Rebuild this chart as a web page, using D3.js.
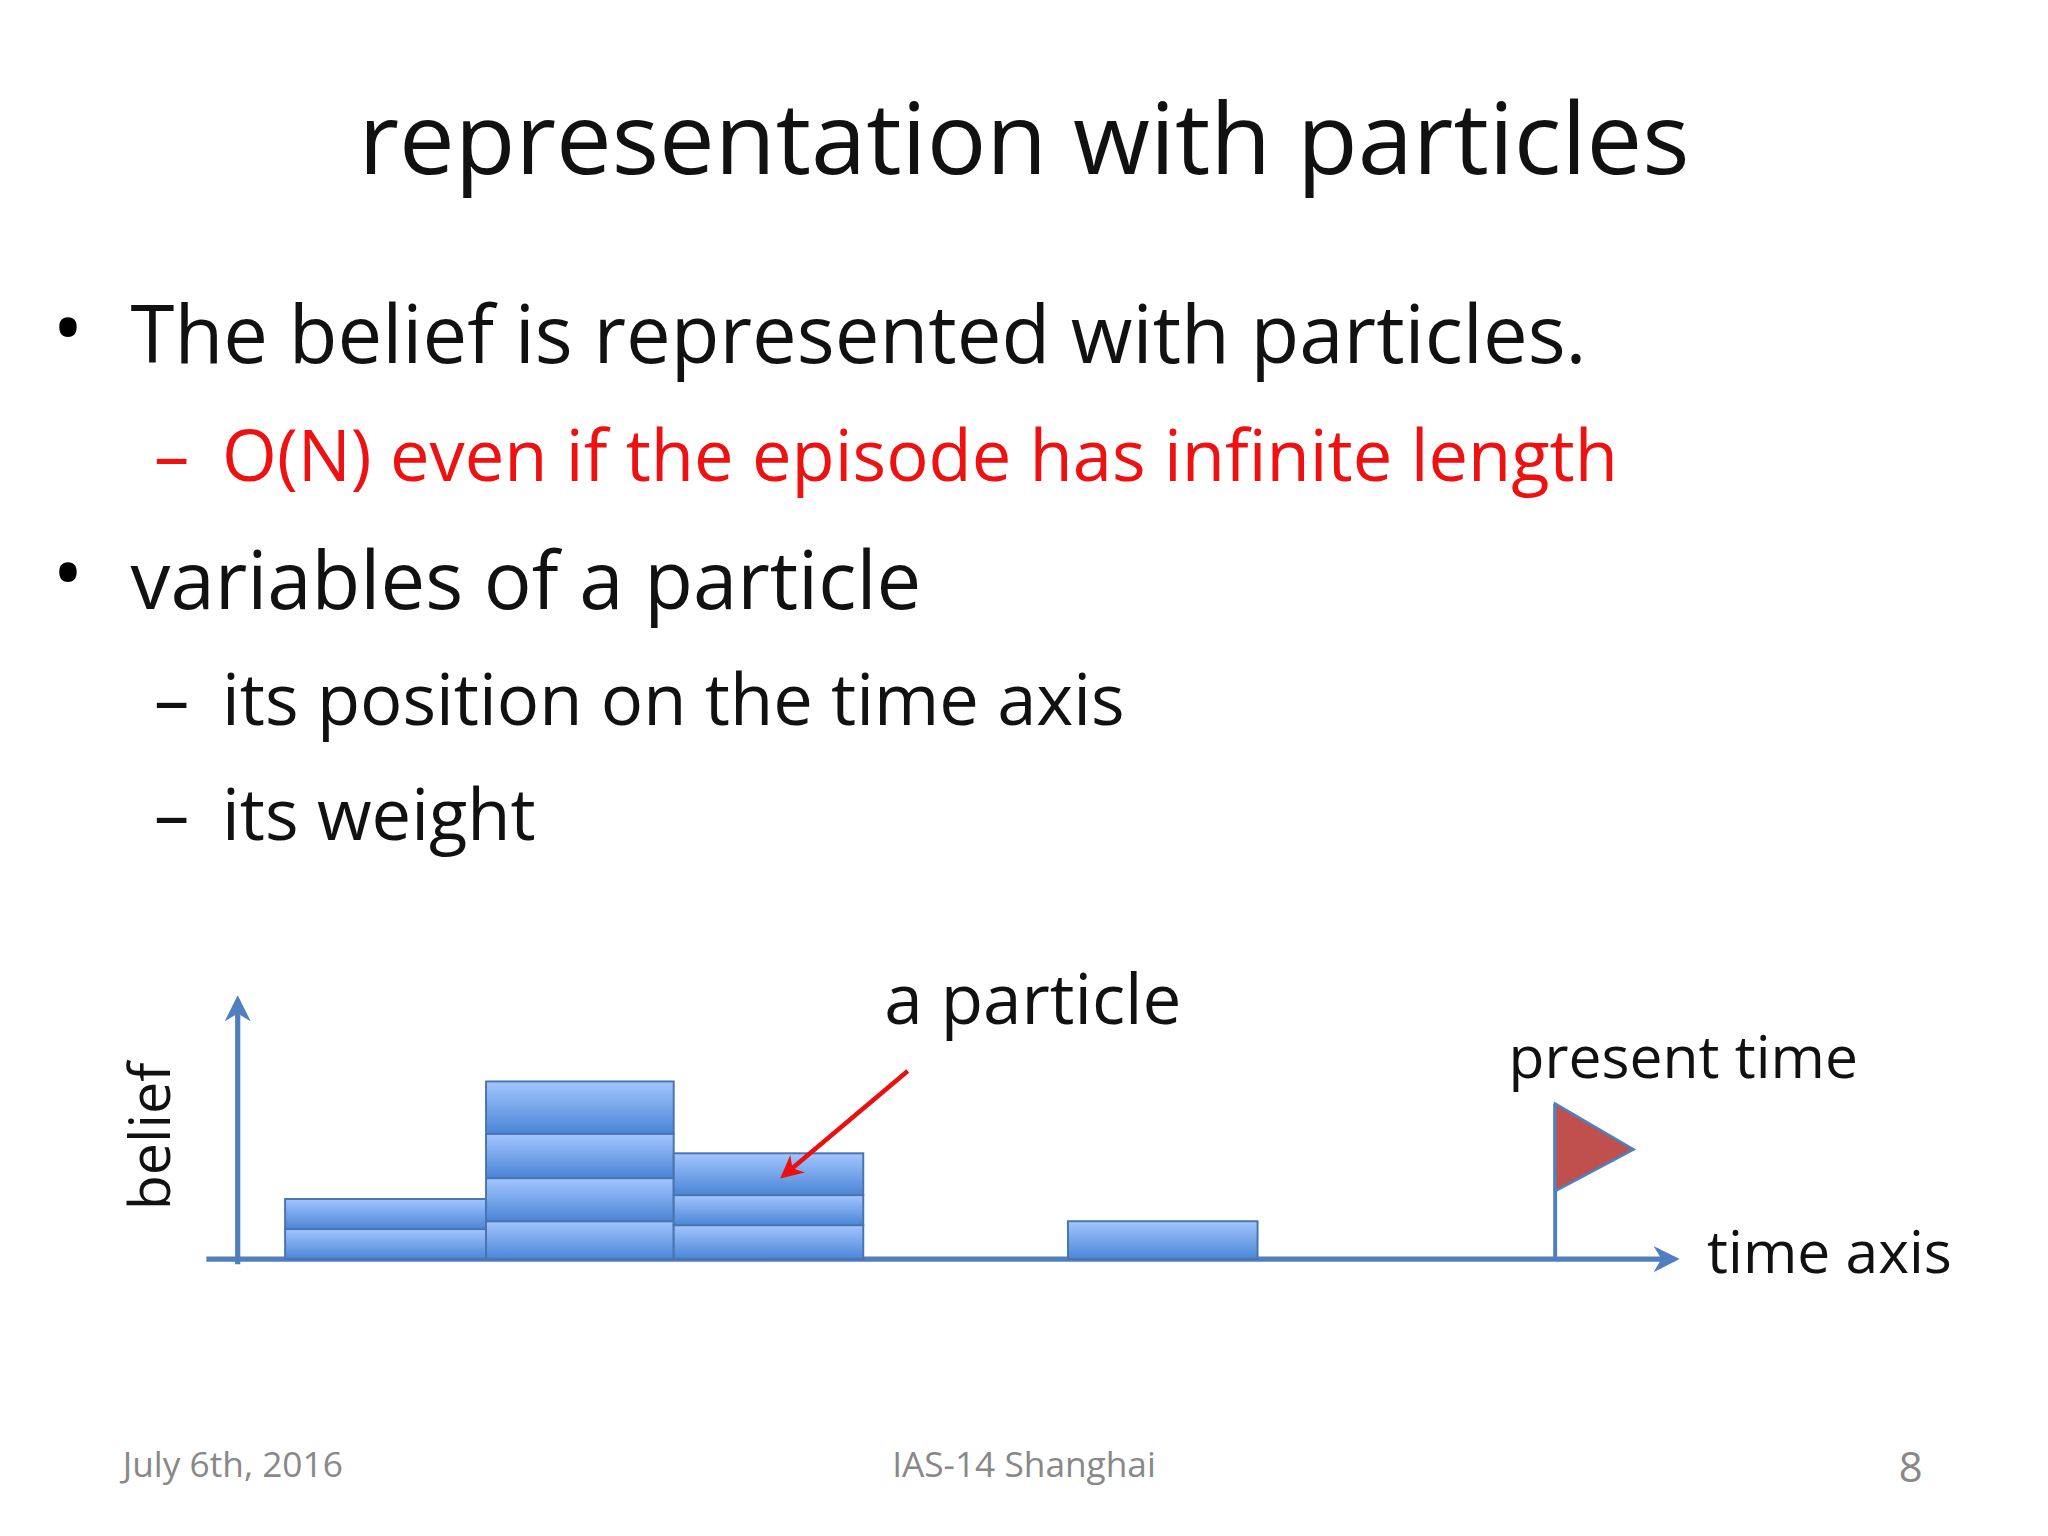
<!DOCTYPE html>
<html><head><meta charset="utf-8">
<script src="https://cdn.jsdelivr.net/npm/d3@7"></script>
<style>body{margin:0;background:#fff}svg{display:block}</style>
</head><body>
<script>
// particles: start time, bin width, weight (stacked within a bin)
const particleStart = [0.25, 0.25, 1.31, 1.31, 1.31, 1.31, 2.30, 2.30, 2.30, 4.38];
const particleWidth = [1.06, 1.06, 0.99, 0.99, 0.99, 0.99, 1.00, 1.00, 1.00, 1.00];
const particleWeight = [2.3, 2.3, 2.9, 3.3, 3.4, 4.0, 2.6, 2.3, 3.2, 2.9];
const presentTime = 6.95;
const bullets = ["The belief is represented with particles.", "variables of a particle"];
const subItems = ["O(N) even if the episode has infinite length", "its position on the time axis", "its weight"];

const svg = d3.select("body").append("svg")
  .attr("width", 2048).attr("height", 1536)
  .attr("viewBox", "0 0 1568 1176");
const font = "'Open Sans', sans-serif";

svg.append("text").attr("x", 784).attr("y", 133).attr("text-anchor", "middle")
  .style("font-family", font).style("font-size", "76px").attr("fill", "#111")
  .text("representation with particles");

// bullets
[[bullets[0], 278], [bullets[1], 466]].forEach(([t, y]) => {
  svg.append("text").attr("x", 40).attr("y", y - 4).style("font-family", font)
    .style("font-size", "64px").text("•");
  svg.append("text").attr("x", 100).attr("y", y).style("font-family", font)
    .style("font-size", "61px").attr("fill", "#111").text(t);
});
[[subItems[0], 368, "#ee1111"], [subItems[1], 555, "#111"], [subItems[2], 643, "#111"]].forEach(([t, y, c]) => {
  svg.append("text").attr("x", 118).attr("y", y).style("font-family", font)
    .style("font-size", "54px").attr("fill", c).text("–");
  svg.append("text").attr("x", 170).attr("y", y).style("font-family", font)
    .style("font-size", "54px").attr("fill", c).text(t);
});

// chart
const x = d3.scaleLinear().domain([0, 7.6]).range([182, 1285]);
const y = d3.scaleLinear().domain([0, 19.4]).range([964, 770]);

const defs = svg.append("defs");
const g = defs.append("linearGradient").attr("id", "pg").attr("x1", 0).attr("y1", 0).attr("x2", 0).attr("y2", 1);
g.append("stop").attr("offset", "0%").attr("stop-color", "#a3c6ff");
g.append("stop").attr("offset", "100%").attr("stop-color", "#4a85d6");
const mk = defs.append("marker").attr("id", "ah").attr("viewBox", "0 0 10 10").attr("refX", 8).attr("refY", 5)
  .attr("markerWidth", 5).attr("markerHeight", 5).attr("orient", "auto-start-reverse");
mk.append("path").attr("d", "M0,0 L10,5 L0,10 L3,5 Z").attr("fill", "#4f7fbf");
const mr = defs.append("marker").attr("id", "ar").attr("viewBox", "0 0 10 10").attr("refX", 8).attr("refY", 5)
  .attr("markerWidth", 5).attr("markerHeight", 5).attr("orient", "auto");
mr.append("path").attr("d", "M0,0 L10,5 L0,10 L3,5 Z").attr("fill", "#e81010");

// stack particles by start
const base = {};
const rects = particleStart.map((s, i) => {
  const b = base[s] || 0;
  base[s] = b + particleWeight[i];
  return { s, w: particleWidth[i], y0: b, y1: b + particleWeight[i] };
});

svg.append("line").attr("x1", 158).attr("x2", 1282).attr("y1", y(0)).attr("y2", y(0))
  .attr("stroke", "#4f7fbf").attr("stroke-width", 4).attr("marker-end", "url(#ah)");
svg.append("line").attr("x1", x(0)).attr("x2", x(0)).attr("y1", y(0) + 4).attr("y2", 766)
  .attr("stroke", "#4f7fbf").attr("stroke-width", 4).attr("marker-end", "url(#ah)");

svg.selectAll("rect.p").data(rects).enter().append("rect").attr("class", "p")
  .attr("x", d => x(d.s)).attr("width", d => x(d.s + d.w) - x(d.s))
  .attr("y", d => y(d.y1)).attr("height", d => y(d.y0) - y(d.y1))
  .attr("fill", "url(#pg)").attr("stroke", "#4a74b0").attr("stroke-width", 1.5);

// flag
const fx = x(presentTime);
svg.append("line").attr("x1", fx).attr("x2", fx).attr("y1", y(0)).attr("y2", 845)
  .attr("stroke", "#4f7fbf").attr("stroke-width", 3);
svg.append("path").attr("d", `M${fx},845 L${fx + 60},880 L${fx},912 Z`)
  .attr("fill", "#c0504d").attr("stroke", "#4f7fbf").attr("stroke-width", 2);

// annotation arrow
svg.append("line").attr("x1", 695).attr("y1", 820).attr("x2", 600).attr("y2", 900)
  .attr("stroke", "#e81010").attr("stroke-width", 3.5).attr("marker-end", "url(#ar)");

const lbl = (t, xx, yy, size, anchor, rot) => {
  const e = svg.append("text").attr("x", xx).attr("y", yy).style("font-family", font)
    .style("font-size", size + "px").attr("fill", "#111").attr("text-anchor", anchor || "start").text(t);
  if (rot) e.attr("transform", `rotate(-90,${xx},${yy})`);
};
lbl("a particle", 677, 784, 53);
lbl("present time", 1155, 825, 45);
lbl("time axis", 1307, 975, 45);
lbl("belief", 130, 870, 44, "middle", true);

// footer
svg.append("text").attr("x", 94).attr("y", 1131).style("font-family", font).style("font-size", "27px")
  .attr("fill", "#888").text("July 6th, 2016");
svg.append("text").attr("x", 784).attr("y", 1131).attr("text-anchor", "middle").style("font-family", font)
  .style("font-size", "27px").attr("fill", "#888").text("IAS-14 Shanghai");
svg.append("text").attr("x", 1472).attr("y", 1135).attr("text-anchor", "end").style("font-family", font)
  .style("font-size", "32px").attr("fill", "#888").text("8");
</script>
</body></html>
